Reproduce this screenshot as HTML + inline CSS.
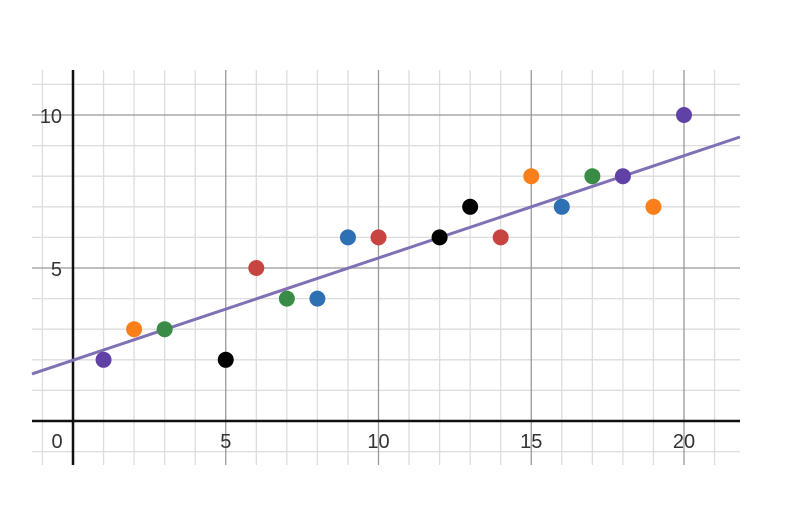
<!DOCTYPE html><html><head><style>body{margin:0;background:#fff}svg{display:block}</style></head><body>
<svg width="800" height="527" xmlns="http://www.w3.org/2000/svg" font-family="Liberation Sans, sans-serif">
<g stroke="#ddd" stroke-width="1.3">
<path d="M42.45 70V465M103.55 70V465M134.1 70V465M164.65 70V465M195.2 70V465M256.3 70V465M286.85 70V465M317.4 70V465M347.95 70V465M409.05 70V465M439.6 70V465M470.15 70V465M500.7 70V465M561.8 70V465M592.35 70V465M622.9 70V465M653.45 70V465M714.55 70V465"/>
<path d="M32 451.6H740M32 390.4H740M32 359.8H740M32 329.2H740M32 298.6H740M32 237.4H740M32 206.8H740M32 176.2H740M32 145.6H740M32 84.4H740"/>
</g>
<g stroke="#999" stroke-width="1.3">
<path d="M225.75 70V465M378.5 70V465M531.25 70V465M684 70V465M32 268H740M32 115H740"/>
</g>
<line x1="73" y1="70" x2="73" y2="465" stroke="#111" stroke-width="2.5"/>
<line x1="32" y1="421" x2="740" y2="421" stroke="#111" stroke-width="2.5"/>
<line x1="32" y1="373.9" x2="740" y2="137" stroke="#8270b5" stroke-width="3"/>
<circle cx="103.55" cy="359.8" r="8" fill="#6042a6"/>
<circle cx="134.1" cy="329.2" r="8" fill="#fa7e19"/>
<circle cx="164.65" cy="329.2" r="8" fill="#388c46"/>
<circle cx="225.75" cy="359.8" r="8" fill="#000"/>
<circle cx="256.3" cy="268" r="8" fill="#c74440"/>
<circle cx="286.85" cy="298.6" r="8" fill="#388c46"/>
<circle cx="317.4" cy="298.6" r="8" fill="#2d70b3"/>
<circle cx="347.95" cy="237.4" r="8" fill="#2d70b3"/>
<circle cx="378.5" cy="237.4" r="8" fill="#c74440"/>
<circle cx="439.6" cy="237.4" r="8" fill="#000"/>
<circle cx="470.15" cy="206.8" r="8" fill="#000"/>
<circle cx="500.7" cy="237.4" r="8" fill="#c74440"/>
<circle cx="531.25" cy="176.2" r="8" fill="#fa7e19"/>
<circle cx="561.8" cy="206.8" r="8" fill="#2d70b3"/>
<circle cx="592.35" cy="176.2" r="8" fill="#388c46"/>
<circle cx="622.9" cy="176.2" r="8" fill="#6042a6"/>
<circle cx="653.45" cy="206.8" r="8" fill="#fa7e19"/>
<circle cx="684" cy="115" r="8" fill="#6042a6"/>
<g font-size="20" fill="#333">
<text x="62" y="123" text-anchor="end">10</text>
<text x="62" y="276" text-anchor="end">5</text>
<text x="57" y="448" text-anchor="middle">0</text>
<text x="225.75" y="448" text-anchor="middle">5</text>
<text x="378.5" y="448" text-anchor="middle">10</text>
<text x="531.25" y="448" text-anchor="middle">15</text>
<text x="684" y="448" text-anchor="middle">20</text>
</g>
</svg></body></html>
